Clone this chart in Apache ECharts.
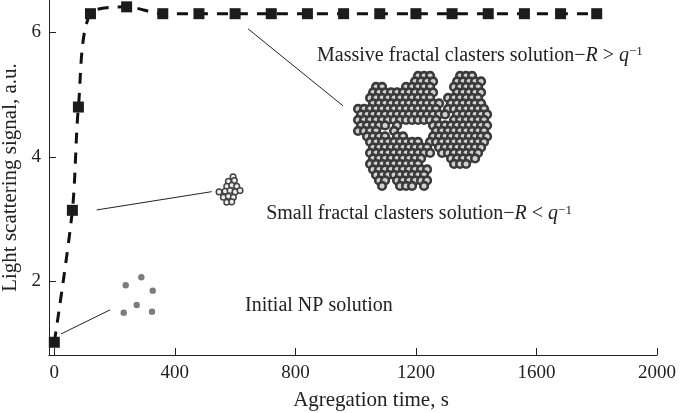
<!DOCTYPE html>
<html>
<head>
<meta charset="utf-8">
<script src="https://cdn.jsdelivr.net/npm/echarts@6/dist/echarts.min.js"></script>
<style>
html,body{margin:0;padding:0;background:#fff;}
#c{width:685px;height:413px;}
</style>
</head>
<body>
<div id="c"></div>
<script>
// ---- data ----
var times = [0, 60, 80, 120, 240, 360, 480, 600, 720, 840, 960, 1080, 1200, 1320, 1440, 1560, 1680, 1800];
var signal = [1.02, 3.14, 4.80, 6.30, 6.41, 6.30, 6.30, 6.30, 6.30, 6.30, 6.30, 6.30, 6.30, 6.30, 6.30, 6.30, 6.30, 6.30];
var xTicks = [0, 400, 800, 1200, 1600, 2000];
var yTicks = [2, 4, 6];
var xName = 'Agregation time, s';
var yName = 'Light scattering signal, a.u.';

// ---- annotation layer (anchors in data units) ----
var FONT = 'Liberation Serif';
var annotations = {
  massive: {text: '{n|Massive fractal clasters solution\u2212}{i|R}{n| > }{i|q}{s|\u22121}', at: [872, 5.63]},
  small: {text: '{n|Small fractal clasters solution\u2212}{i|R}{n| < }{i|q}{s|\u22121}', at: [703, 3.08]},
  initial: {text: '{n|Initial NP solution}', at: [633, 1.60]},
  leaders: [
    [[643, 6.056], [958, 4.82]],
    [[140.7, 3.146], [522.5, 3.44]],
    [[22.2, 1.153], [184.9, 1.54]]
  ],
  bigClusterOrigin: [1008, 5.30],
  smallClusterCenter: [586.6, 3.468],
  npCenter: [277.8, 1.78]
};
// pictorial mask of the large aggregate (hex packing of particles)
var bigMask = [
  "..........###....###..",
  ".........####...#####.",
  "...##...#####...#####.",
  "..###########...#####.",
  "..###########..######.",
  "..############.######.",
  "##############.#######",
  "###############.######",
  "##############..######",
  "#####.#.....##########",
  "####..#......#########",
  ".####.##....##########",
  "..#########.##########",
  "..##########.########.",
  "..###########.#######.",
  "..#########....#####..",
  "..#########.....###...",
  "..##########..........",
  "...#########..........",
  "...##.######..........",
  "....#..###.#.........."
];
var smallOffsets = [[2,-13],[-2.7,-8.7],[3.3,-9.3],[-4.3,-3.7],[0.7,-4.7],[5.7,-3.7],[-12,2],[-6,1.3],[-1,0.7],[4,2],[9,0.7],[-7.7,7.3],[-2.7,6.3],[2.3,7.3],[-4.3,12.3],[0.7,12]];
var npOffsets = [[-12.3,-9.7],[3.3,-17.7],[14.7,-4.3],[-1.3,10],[-14.3,17.7],[14,16.7]];

var chart = echarts.init(document.getElementById('c'), null, {renderer: 'canvas'});
var seriesData = times.map(function (t, i) { return [t, signal[i]]; });

var axisTxt = {fontFamily: FONT, fontSize: 19, color: '#222', formatter: function (v) { return String(v); }};
var option = {
  animation: false,
  backgroundColor: '#fff',
  grid: {left: 49, right: 28, top: 0, bottom: 58, containLabel: false, outerBoundsMode: 'none'},
  xAxis: {
    type: 'value', min: -17.6, max: 2000,
    name: xName, nameLocation: 'middle', nameGap: 35,
    nameTextStyle: {fontFamily: FONT, fontSize: 21, color: '#222', padding: [0, 0, 0, 36]},
    axisLine: {show: true, onZero: false, lineStyle: {color: '#222', width: 1}},
    axisTick: {show: true, inside: true, length: 7, customValues: xTicks, lineStyle: {color: '#222'}},
    axisLabel: Object.assign({customValues: xTicks, margin: 9}, axisTxt),
    splitLine: {show: false}
  },
  yAxis: {
    type: 'value', min: 0.815, max: 6.52,
    name: yName, nameLocation: 'middle', nameGap: 28,
    nameTextStyle: {fontFamily: FONT, fontSize: 21, color: '#222'},
    axisLine: {show: true, onZero: false, lineStyle: {color: '#222', width: 1}},
    axisTick: {show: true, inside: true, length: 7, customValues: yTicks, lineStyle: {color: '#222'}},
    axisLabel: Object.assign({customValues: yTicks, margin: 8}, axisTxt),
    splitLine: {show: false}
  },
  series: [{
    type: 'line',
    data: seriesData,
    smooth: 0.3,
    symbol: 'rect',
    symbolSize: 11,
    itemStyle: {color: '#1c1c1c'},
    lineStyle: {color: '#111', width: 3, type: [11, 9]},
    z: 3
  }]
};
chart.setOption(option);

function px(p) { return chart.convertToPixel({gridIndex: 0}, p); }
var rich = {
  n: {fontFamily: FONT, fontSize: 20, fill: '#222', color: '#222'},
  i: {fontFamily: FONT, fontSize: 20, fontStyle: 'italic', fill: '#222', color: '#222'},
  s: {fontFamily: FONT, fontSize: 13, fill: '#222', color: '#222', verticalAlign: 'top'}
};
var g = [];
annotations.leaders.forEach(function (seg) {
  var a = px(seg[0]), b = px(seg[1]);
  g.push({type: 'line', shape: {x1: a[0], y1: a[1], x2: b[0], y2: b[1]}, style: {stroke: '#222', lineWidth: 1}, z: 5});
});
['massive', 'small', 'initial'].forEach(function (k) {
  var p = px(annotations[k].at);
  g.push({type: 'text', x: p[0], y: p[1], style: {text: annotations[k].text, rich: rich, verticalAlign: 'middle', align: 'left'}, z: 5});
});
// NP dots
var npc = px(annotations.npCenter);
npOffsets.forEach(function (o) {
  g.push({type: 'circle', shape: {cx: npc[0] + o[0], cy: npc[1] + o[1], r: 3.2}, style: {fill: '#7c7c7c'}, z: 5});
});
// small cluster
var sc = px(annotations.smallClusterCenter);
smallOffsets.forEach(function (o) {
  g.push({type: 'circle', shape: {cx: sc[0] + o[0], cy: sc[1] + o[1], r: 2.8}, style: {fill: '#eeeeee', stroke: '#444', lineWidth: 1.5}, z: 5});
});
// big cluster
var bo = px(annotations.bigClusterOrigin);
bigMask.forEach(function (row, r) {
  for (var c = 0; c < row.length; c++) {
    if (row.charAt(c) === '#') {
      g.push({type: 'circle', shape: {cx: bo[0] + c * 6 + (r % 2 ? 3 : 0), cy: bo[1] + r * 5.5, r: 3.8},
        style: {fill: '#d0d0d0', stroke: '#3a3a3a', lineWidth: 2.6}, z: 5});
    }
  }
});
chart.setOption({graphic: g});
</script>
</body>
</html>
